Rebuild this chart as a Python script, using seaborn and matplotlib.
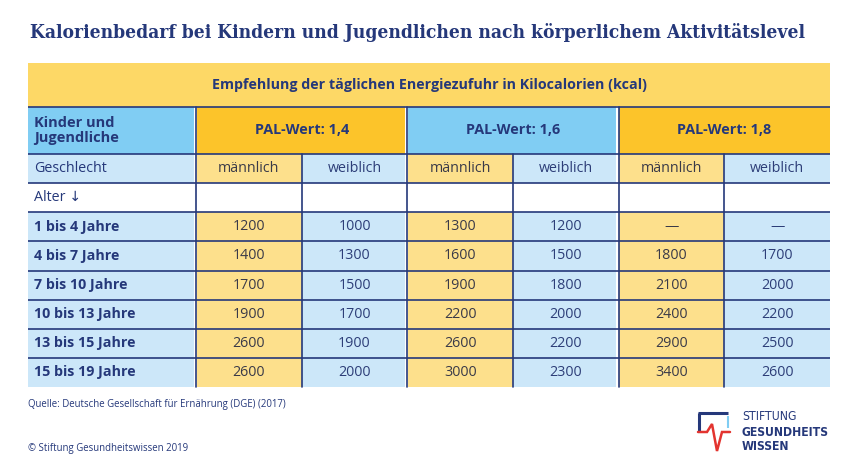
import numpy as np
import seaborn as sns
import matplotlib.pyplot as plt
from matplotlib.colors import ListedColormap
from matplotlib.patches import Rectangle

# Daten (DGE 2017), kcal pro Tag
altersgruppen = ["1 bis 4 Jahre", "4 bis 7 Jahre", "7 bis 10 Jahre",
                 "10 bis 13 Jahre", "13 bis 15 Jahre", "15 bis 19 Jahre"]
pal_werte = ["1,4", "1,6", "1,8"]
geschlechter = ["männlich", "weiblich"]
pal14_m = [1200, 1400, 1700, 1900, 2600, 2600]
pal14_w = [1000, 1300, 1500, 1700, 1900, 2000]
pal16_m = [1300, 1600, 1900, 2200, 2600, 3000]
pal16_w = [1200, 1500, 1800, 2000, 2200, 2300]
pal18_m = [None, 1800, 2100, 2400, 2900, 3400]
pal18_w = [None, 1700, 2000, 2200, 2500, 2600]

# Farben
NAVY = "#25387a"
GOLD_BAND = "#fdd866"
ORANGE = "#fcc42a"
BLAU = "#80cdf3"
BLAU_HELL = "#cce7f9"
GELB_HELL = "#fde08c"
ROT = "#e3342f"

sns.set_theme(style="white")
plt.rcParams['font.family'] = ['Open Sans', 'DejaVu Sans']

W, H = 860, 467
fig = plt.figure(figsize=(W / 100, H / 100), dpi=100)

# Tabellenraster in Pixeln
x_links, x_erste, x_rechts = 28, 196, 830
y_band, y_kopf, y_geschl, y_ende = 63, 107, 154, 387
n_zeilen = 2 + len(altersgruppen)
spalte_b = (x_rechts - x_erste) / 6
zeile_h = (y_ende - y_geschl) / n_zeilen


def fig_rect(x0, y0, x1, y1):
    return [x0 / W, 1 - y1 / H, (x1 - x0) / W, (y1 - y0) / H]


# 1. Tabellenkörper als Heatmap
ax = fig.add_axes(fig_rect(x_erste, y_geschl, x_rechts, y_ende))
spalten = [pal14_m, pal14_w, pal16_m, pal16_w, pal18_m, pal18_w]
beschriftung = [geschlechter * 3, [""] * 6]
for i in range(len(altersgruppen)):
    beschriftung.append(["—" if s[i] is None else str(s[i]) for s in spalten])
farbcode = [[j % 2 for j in range(6)], [2] * 6]
farbcode += [[j % 2 for j in range(6)] for _ in altersgruppen]

sns.heatmap(np.array(farbcode), annot=np.array(beschriftung), fmt="",
            cmap=ListedColormap([GELB_HELL, BLAU_HELL, "white"]), vmin=0, vmax=2,
            cbar=False, linewidths=0, xticklabels=False, yticklabels=False,
            annot_kws={"fontsize": 10.3}, ax=ax)
for t in ax.texts:
    spalte = int(t.get_position()[0])
    t.set_color("#3a3a48" if spalte % 2 == 0 else "#2d3e78")

# 2. Kopf, erste Spalte, Linien und Texte in Pixelkoordinaten
bg = fig.add_axes([0, 0, 1, 1], zorder=3)
bg.set_xlim(0, W)
bg.set_ylim(H, 0)
bg.axis('off')


def rechteck(x0, y0, x1, y1, farbe):
    bg.add_patch(Rectangle((x0, y0), x1 - x0, y1 - y0, facecolor=farbe, edgecolor='none', zorder=1))


rechteck(x_links, y_band, x_rechts, y_kopf, GOLD_BAND)
rechteck(x_links, y_kopf, x_erste, y_geschl, BLAU)
for k, farbe in enumerate([ORANGE, BLAU, ORANGE]):
    rechteck(x_erste + 2 * k * spalte_b, y_kopf, x_erste + 2 * (k + 1) * spalte_b, y_geschl, farbe)
rechteck(x_links, y_geschl, x_erste, y_ende, BLAU_HELL)
rechteck(x_links, y_geschl + zeile_h, x_erste, y_geschl + 2 * zeile_h, "white")

# Linien
lw = 1.2
for y in [y_kopf] + [y_geschl + k * zeile_h for k in range(n_zeilen)]:
    bg.plot([x_links, x_rechts], [y, y], color=NAVY, lw=lw, zorder=3, solid_capstyle='butt')
for k in [0, 2, 4]:
    x = x_erste + k * spalte_b
    bg.plot([x - 1.5, x - 1.5], [y_kopf, y_ende], color="white", lw=2.2, zorder=2)
    bg.plot([x, x], [y_kopf, y_ende], color=NAVY, lw=lw, zorder=3)
for k in [1, 3, 5]:
    x = x_erste + k * spalte_b
    bg.plot([x, x], [y_geschl, y_ende], color=NAVY, lw=lw, zorder=3)

# Texte im Tabellenkopf
bg.text((x_links + x_rechts) / 2, (y_band + y_kopf) / 2,
        "Empfehlung der täglichen Energiezufuhr in Kilocalorien (kcal)",
        ha='center', va='center', fontsize=10.3, fontweight='bold', color=NAVY, zorder=4)
bg.text(x_links + 6, (y_kopf + y_geschl) / 2, "Kinder und\nJugendliche", ha='left', va='center',
        fontsize=10.5, fontweight='bold', color=NAVY, linespacing=1.1, zorder=4)
for k, pal in enumerate(pal_werte):
    bg.text(x_erste + (2 * k + 1) * spalte_b, (y_kopf + y_geschl) / 2, f"PAL-Wert: {pal}",
            ha='center', va='center', fontsize=10.4, fontweight='bold', color=NAVY, zorder=4)
bg.text(x_links + 6, y_geschl + zeile_h / 2, "Geschlecht", ha='left', va='center',
        fontsize=10.3, color=NAVY, zorder=4)
bg.text(x_links + 6, y_geschl + 1.5 * zeile_h, "Alter \u2193", ha='left', va='center',
        fontsize=10.3, color=NAVY, zorder=4)
for i, alter in enumerate(altersgruppen):
    bg.text(x_links + 6, y_geschl + (i + 2.5) * zeile_h, alter, ha='left', va='center',
            fontsize=10.3, fontweight='bold', color=NAVY, zorder=4)

# Titel und Fußzeilen
titel = bg.text(30, 32, "Kalorienbedarf bei Kindern und Jugendlichen nach körperlichem Aktivitätslevel",
                ha='left', va='center', fontsize=14, fontweight='bold', color=NAVY,
                family=['DejaVu Serif'], fontstretch='condensed')
bg.text(x_links, 404, "Quelle: Deutsche Gesellschaft für Ernährung (DGE) (2017)",
        ha='left', va='center', fontsize=6.9, color=NAVY)
bg.text(x_links, 448, "\u00a9 Stiftung Gesundheitswissen 2019",
        ha='left', va='center', fontsize=6.9, color=NAVY)

# Logo
bg.plot([698, 728], [413, 413], color=NAVY, lw=2.2, solid_capstyle='butt')
bg.plot([699, 699], [413, 432], color=NAVY, lw=2.2, solid_capstyle='butt')
bg.plot([728, 728], [416, 428], color=BLAU, lw=1.5, solid_capstyle='butt')
bg.plot([698, 707, 712, 717, 722, 730], [432, 432, 424, 451, 432, 432], color=ROT, lw=1.8,
        solid_joinstyle='miter')
logo_font = ['DejaVu Sans']
logo = [bg.text(742, y, txt, ha='left', va='center', fontsize=9, fontweight=fw, color=NAVY,
                family=logo_font, fontstretch='condensed')
        for y, txt, fw in [(417, "STIFTUNG", 'normal'), (432, "GESUNDHEITS", 'bold'),
                           (446, "WISSEN", 'bold')]]

# Schriftgröße an die Breite im Original anpassen
renderer = fig.canvas.get_renderer()
for txt, breite in [(titel, 782), (logo[1], 87)]:
    faktor = breite / txt.get_window_extent(renderer).width
    if txt is titel:
        txt.set_fontsize(txt.get_fontsize() * faktor)
    else:
        for t in logo:
            t.set_fontsize(t.get_fontsize() * faktor)

fig.savefig('out.png', dpi=100)
